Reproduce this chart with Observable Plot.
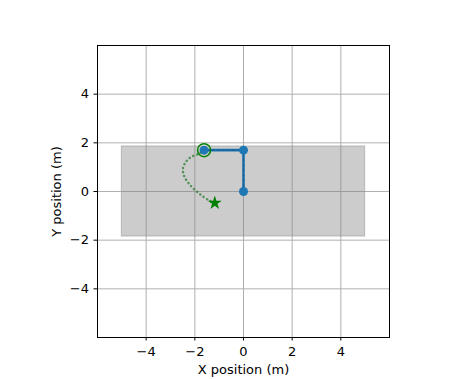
<!DOCTYPE html>
<html>
<head>
<meta charset="utf-8">
<script src="https://cdn.jsdelivr.net/npm/d3@7"></script>
<script src="https://cdn.jsdelivr.net/npm/@observablehq/plot@0.6"></script>
<style>
  html, body { margin: 0; padding: 0; background: #fff; }
  svg { font-family: "DejaVu Sans", sans-serif; }
</style>
</head>
<body>
<div id="chart"></div>
<script>
// Region (gray rectangle)
const regionX = [-5, 5];
const regionY = [-1.85, 1.85];
// Blue path (waypoints)
const pathX = [0, 0, -1.62];
const pathY = [0, 1.7, 1.7];
// Green dotted trajectory
const trajX = [-1.62, -1.83, -2.17, -2.38, -2.49, -2.45, -2.24, -1.97, -1.63, -1.35, -1.18];
const trajY = [1.7, 1.55, 1.41, 1.2, 0.93, 0.66, 0.32, 0.04, -0.23, -0.4, -0.47];
// Start and goal
const startPt = [-1.62, 1.7];
const goalPt = [-1.18, -0.47];
const ticks = [-4, -2, 0, 2, 4];

const path = pathX.map((x, i) => ({x, y: pathY[i]}));
const traj = trajX.map((x, i) => ({x, y: trajY[i]}));

const chart = Plot.plot({
  width: 474,
  height: 379,
  marginLeft: 97,
  marginRight: 85,
  marginTop: 45,
  marginBottom: 42,
  style: {fontFamily: "DejaVu Sans, sans-serif", fontSize: "13px", color: "#000", background: "#fff"},
  x: {domain: [-6, 6], ticks: ticks},
  y: {domain: [-6, 6], ticks: ticks},
  marks: [
    Plot.gridX(ticks, {stroke: "#b0b0b0", strokeOpacity: 1, strokeWidth: 1}),
    Plot.gridY(ticks, {stroke: "#b0b0b0", strokeOpacity: 1, strokeWidth: 1}),
    Plot.rect([{x1: regionX[0], x2: regionX[1], y1: regionY[0], y2: regionY[1]}],
      {x1: "x1", x2: "x2", y1: "y1", y2: "y2", fill: "#808080", fillOpacity: 0.4, stroke: "#999", strokeOpacity: 0.6}),
    Plot.line(traj, {x: "x", y: "y", stroke: "#2e7d32", strokeOpacity: 0.75, strokeWidth: 2.5, strokeDasharray: "0.1,4", strokeLinecap: "round", curve: "catmull-rom"}),
    Plot.line(path, {x: "x", y: "y", stroke: "#1f77b4", strokeWidth: 2.6}),
    Plot.line(path, {x: "x", y: "y", stroke: "#1b5f91", strokeWidth: 1.2, strokeDasharray: "3,2"}),
    Plot.dot(path, {x: "x", y: "y", r: 4.5, fill: "#1f77b4", stroke: "none"}),
    Plot.dot([startPt], {x: d => d[0], y: d => d[1], r: 6.5, stroke: "green", strokeWidth: 1.5, fill: "none"}),
    Plot.dot([goalPt], {x: d => d[0], y: d => d[1], symbol: "star", r: 4.4, fill: "green", stroke: "none"}),
    Plot.frame({stroke: "#000", strokeWidth: 1}),
    Plot.axisX(ticks, {tickSize: 3.5, tickPadding: 6, fontSize: 13, label: "X position (m)", labelAnchor: "center", labelArrow: "none", labelOffset: 36.5, tickFormat: d => d3.format("d")(d)}),
    Plot.axisY(ticks, {tickSize: 3.5, tickPadding: 5, fontSize: 13, label: "Y position (m)", labelAnchor: "center", labelArrow: "none", labelOffset: 46, tickFormat: d => d3.format("d")(d)})
  ]
});
document.getElementById("chart").appendChild(chart);
</script>
</body>
</html>
